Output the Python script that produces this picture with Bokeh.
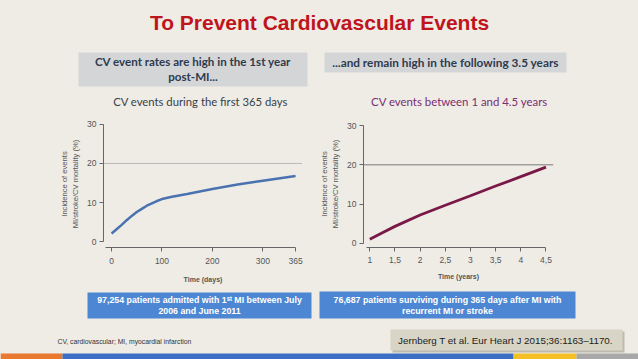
from bokeh.plotting import figure
from bokeh.layouts import column, row
from bokeh.models import Range1d, FixedTicker, Span
from bokeh.core.properties import value
from bokeh.embed import file_html
from bokeh.resources import INLINE

# ---- data ----
days = [0, 10, 20, 30, 40, 50, 60, 70, 80, 90, 100, 120, 150, 200, 250, 300, 365]
incidence_first_year = [2.1, 3.2, 4.3, 5.5, 6.6, 7.6, 8.4, 9.2, 9.8, 10.4, 10.9,
                        11.5, 12.2, 13.5, 14.6, 15.6, 16.8]
years = [1, 1.25, 1.5, 2, 2.5, 3, 3.5, 4, 4.5]
incidence_later = [1.0, 2.7, 4.3, 7.2, 9.7, 12.1, 14.6, 17.0, 19.4]
y_ticks = [0, 10, 20, 30]
day_ticks = [0, 100, 200, 300, 365]
year_ticks = [1, 1.5, 2, 2.5, 3, 3.5, 4, 4.5]
year_tick_labels = ["1", "1,5", "2", "2,5", "3", "3,5", "4", "4,5"]
reference_level = 20

title_text = "To Prevent Cardiovascular Events"
box_left_lines = ["CV event rates are high in the 1st year", "post-MI..."]
box_right_text = "...and remain high in the following 3.5 years"
sub_left = "CV events during the first 365 days"
sub_right = "CV events between 1 and 4.5 years"
blue_left_lines = ["97,254 patients admitted with 1\u02e2\u1d57 MI between July", "2006 and June 2011"]
blue_right_lines = ["76,687 patients surviving during 365 days after MI with", "recurrent MI or stroke"]
footnote = "CV, cardiovascular; MI, myocardial infarction"
citation = "Jernberg T et al. Eur Heart J 2015;36:1163\u20131170."
y_label = "Incidence of events\nMI/stroke/CV mortality (%)"

BG = "#eeece5"
ARIAL = "Liberation Sans"
W = 638


def canvas(height, y_top, y_bottom):
    p = figure(width=W, height=height, x_range=Range1d(0, W),
               y_range=Range1d(y_bottom, y_top), output_backend="svg",
               toolbar_location=None, min_border=0,
               background_fill_color=BG, border_fill_color=BG,
               outline_line_color=None)
    p.axis.visible = False
    p.grid.visible = False
    return p


def txt(p, x, y, s, size, color, font=ARIAL, style="normal", align="center"):
    p.text(x=[x], y=[y], text=[s], text_font=value(font), text_font_size=size,
           text_color=color, text_font_style=style, text_align=align,
           text_baseline="middle")


# ---- top strip (page y 0..112) ----
top = canvas(112, 0, 112)
txt(top, 319, 22, title_text, "21px", "#c0141c", style="bold")
top.quad(left=[78], right=[307], top=[52], bottom=[86], color="#d4d5d7", line_color=None)
txt(top, 192.5, 61, box_left_lines[0], "11.6px", "#2e3b4e", font="Lato", style="bold")
txt(top, 192.5, 76, box_left_lines[1], "11.6px", "#2e3b4e", font="Lato", style="bold")
top.quad(left=[324], right=[566], top=[52], bottom=[72], color="#d4d5d7", line_color=None)
txt(top, 445, 62.3, box_right_text, "11.8px", "#2e3b4e", font="Lato", style="bold")
txt(top, 200, 101, sub_left, "11.3px", "#3a3f48", font="Lato")
txt(top, 459, 101, sub_right, "11.4px", "#7b2d72", font="Lato")


# ---- charts (page y 112..286) ----
def chart(width, x_range, y_range, mb_left, mb_right, mb_top, mb_bottom):
    p = figure(width=width, height=174, x_range=x_range, y_range=y_range,
               output_backend="svg", toolbar_location=None,
               min_border_left=mb_left, min_border_right=mb_right,
               min_border_top=mb_top, min_border_bottom=mb_bottom,
               background_fill_color=BG, border_fill_color=BG,
               outline_line_color=None)
    p.grid.visible = False
    for ax in (p.xaxis[0], p.yaxis[0]):
        ax.axis_line_color = "#666666"
        ax.major_tick_line_color = "#666666"
        ax.major_tick_out = 4
        ax.major_tick_in = 0
        ax.minor_tick_line_color = None
        ax.major_label_text_font = ARIAL
        ax.major_label_text_font_size = "8.5px"
        ax.major_label_text_color = "#555555"
        ax.major_label_standoff = 3
        ax.axis_label_text_font = ARIAL
        ax.axis_label_text_font_size = "7px"
        ax.axis_label_text_color = "#555555"
    p.yaxis[0].ticker = FixedTicker(ticks=y_ticks)
    p.yaxis[0].bounds = (0, 30)
    p.yaxis[0].axis_label = y_label
    p.yaxis[0].axis_label_text_font_style = "normal"
    p.yaxis[0].axis_label_text_font_size = "7.6px"
    p.yaxis[0].axis_label_standoff = 4
    p.xaxis[0].axis_label_text_font_style = "bold"
    return p


c1 = chart(312, Range1d(-16, 378.8), Range1d(-1.475, 30.98), 103, 10, 8, 34)
c1.xaxis[0].ticker = FixedTicker(ticks=day_ticks)
c1.xaxis[0].bounds = (-12, 365)
c1.xaxis[0].axis_label = "Time (days)"
c1.xaxis[0].major_label_standoff = 6
c1.xaxis[0].axis_label_standoff = 9
c1.add_layout(Span(location=reference_level, dimension="width",
                   line_color="#b9b9b9", line_width=1))
c1.line(days, incidence_first_year, line_color="#4a72b0", line_width=2.5)

c2 = chart(326, Range1d(0.875, 4.649), Range1d(-1.09, 31.31), 51, 85, 4, 39)
c2.xaxis[0].ticker = FixedTicker(ticks=year_ticks)
c2.xaxis[0].major_label_overrides = {t: l for t, l in zip(year_ticks, year_tick_labels)}
c2.xaxis[0].bounds = (0.93, 4.5)
c2.xaxis[0].axis_label = "Time (years)"
c2.xaxis[0].major_label_standoff = 5
c2.xaxis[0].axis_label_standoff = 7
c2.add_layout(Span(location=reference_level, dimension="width",
                   line_color="#7a7a7a", line_width=1))
c2.line(years, incidence_later, line_color="#7a1848", line_width=2.8)

# ---- bottom strip (page y 286..359) ----
bot = canvas(73, 286, 359)
bot.quad(left=[87], right=[311], top=[292], bottom=[318], color="#4d87d3", line_color=None)
txt(bot, 199, 299.5, blue_left_lines[0], "8.8px", "white", style="bold")
txt(bot, 199, 310.5, blue_left_lines[1], "8.8px", "white", style="bold")
bot.quad(left=[319], right=[575], top=[291], bottom=[318], color="#4d87d3", line_color=None)
txt(bot, 447, 299.5, blue_right_lines[0], "8.8px", "white", style="bold")
txt(bot, 447, 310.7, blue_right_lines[1], "8.8px", "white", style="bold")
txt(bot, 57, 341, footnote, "6.8px", "#333333", align="left")
bot.quad(left=[392], right=[624], top=[331], bottom=[352], color="#bdbab0", line_color=None)
bot.quad(left=[390], right=[622], top=[329], bottom=[350], color="#d8d5c6", line_color=None)
txt(bot, 505, 339.5, citation, "9.8px", "#1c1c1c")
bar_left = [0, 62, 513, 576]
bar_right = [62, 513, 576, 638]
bar_colors = ["#e8792e", "#3b6fc4", "#f5c026", "#a8a8a8"]
bot.quad(left=bar_left, right=bar_right, top=[353] * 4, bottom=[359] * 4,
         color=bar_colors, line_color=None)

layout = column(top, row(c1, c2, styles={"background-color": BG}),
                bot, styles={"background-color": BG})
open("out.html", "w").write(file_html(layout, INLINE))
